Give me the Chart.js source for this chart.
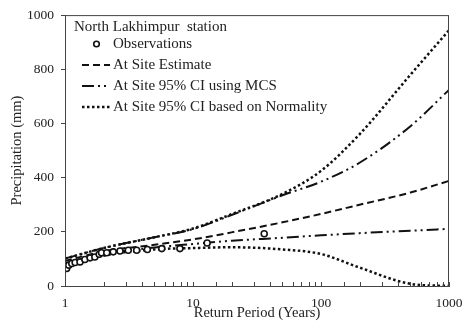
<!DOCTYPE html>
<html>
<head>
<meta charset="utf-8">
<script src="https://cdn.jsdelivr.net/npm/chart.js@4.4.1/dist/chart.umd.min.js"></script>
<style>
  html, body { margin: 0; padding: 0; background: #fff; }
  #wrap { width: 474px; height: 322px; position: relative; }
</style>
</head>
<body>
<div id="wrap"><canvas id="freqChart"></canvas></div>
<script>
const stationName = "North Lakhimpur  station";

// observed annual maxima at their plotting-position return periods
const obsPeriod = [1.03, 1.07, 1.13, 1.2, 1.31, 1.43, 1.57, 1.71, 1.85, 1.93, 2.12, 2.38, 2.69, 3.12, 3.63, 4.4, 5.7, 7.9, 12.9, 36];
const obsPrecip = [65, 77, 83, 87, 89, 98, 104, 107, 117, 123, 123, 126, 129, 132, 132, 135, 138, 138, 159, 193];

// return periods for the fitted curves
const curvePeriod = [1, 2, 5, 10, 20, 50, 100, 200, 500, 1000];
const siteEstimate = [92, 128, 152, 172, 198, 235, 266, 300, 345, 388];
const mcsUpper = [101, 140, 180, 210, 262, 335, 385, 455, 590, 724];
const mcsLower = [80, 118, 142, 155, 167, 178, 187, 195, 204, 211];
const normUpper = [101, 140, 180, 212, 265, 340, 425, 560, 780, 944];
const normLower = [70, 112, 135, 140, 143, 135, 118, 68, 8, 0];

const yTicks = [0, 200, 400, 600, 800, 1000];

const ink = "#111";
const serif = "'Liberation Serif', 'DejaVu Serif', serif";

function pairs(xs, ys) {
  return xs.map((x, i) => ({ x: x, y: ys[i] }));
}

function curve(label, values, dash, width) {
  return {
    label: label,
    data: pairs(curvePeriod, values),
    borderColor: ink,
    borderWidth: width || 2,
    borderDash: dash,
    pointRadius: 0,
    cubicInterpolationMode: "monotone",
    fill: false,
  };
}

const dashed = [7, 4];
const dashDotDot = [12, 4, 2, 4, 2, 4];
const dotted = [2.5, 2.5];

// frame round the plot, and x ticks pointing inward
const framePlugin = {
  id: "frame",
  afterDraw(chart) {
    const { ctx, chartArea: a, scales } = chart;
    ctx.save();
    ctx.strokeStyle = "#444";
    ctx.lineWidth = 1;
    ctx.strokeRect(a.left + 0.5, a.top + 0.5, a.right - a.left - 1, a.bottom - a.top);
    ctx.beginPath();
    scales.x.ticks.forEach((t) => {
      const px = Math.round(scales.x.getPixelForValue(t.value)) + 0.5;
      ctx.moveTo(px, a.bottom);
      ctx.lineTo(px, a.bottom - 4);
    });
    ctx.stroke();
    ctx.restore();
  },
};

// legend drawn inside the plot, one row per distinct label
const legendPlugin = {
  id: "insideLegend",
  afterDraw(chart) {
    const { ctx } = chart;
    ctx.save();
    ctx.font = "15px " + serif;
    ctx.fillStyle = "#222";
    ctx.textBaseline = "middle";
    ctx.fillText(stationName, 74, 27);
    const seen = new Set();
    let row = 0;
    chart.data.datasets.forEach((ds) => {
      if (seen.has(ds.label)) return;
      seen.add(ds.label);
      const y = 44 + row * 21;
      ctx.strokeStyle = ink;
      if (ds.showLine === false) {
        ctx.lineWidth = 1.6;
        ctx.setLineDash([]);
        ctx.beginPath();
        ctx.arc(96.5, y, 2.8, 0, Math.PI * 2);
        ctx.stroke();
      } else {
        ctx.lineWidth = ds.borderWidth;
        ctx.setLineDash(ds.borderDash || []);
        ctx.beginPath();
        ctx.moveTo(82, y);
        ctx.lineTo(110, y);
        ctx.stroke();
      }
      ctx.fillText(ds.label, 113, y);
      row++;
    });
    ctx.restore();
  },
};

new Chart(document.getElementById("freqChart"), {
  type: "line",
  data: {
    datasets: [
      {
        label: "Observations",
        data: pairs(obsPeriod, obsPrecip),
        showLine: false,
        pointRadius: 3,
        pointBorderWidth: 1.6,
        pointBorderColor: ink,
        pointBackgroundColor: "#fff",
      },
      curve("At Site Estimate", siteEstimate, dashed),
      curve("At Site 95% CI using MCS", mcsUpper, dashDotDot),
      curve("At Site 95% CI using MCS", mcsLower, dashDotDot),
      curve("At Site 95% CI based on Normality", normUpper, dotted, 2.5),
      curve("At Site 95% CI based on Normality", normLower, dotted, 2.5),
    ],
  },
  options: {
    responsive: true,
    maintainAspectRatio: false,
    animation: false,
    layout: { padding: { top: 13, right: 25, left: 0, bottom: 0 } },
    plugins: {
      legend: { display: false },
      tooltip: { enabled: false },
    },
    scales: {
      x: {
        type: "logarithmic",
        min: 1,
        max: 1000,
        afterFit(scale) {
          scale.height = 36;
        },
        grid: { display: true, drawOnChartArea: false, drawTicks: false },
        border: { display: true, color: "#444" },
        ticks: {
          autoSkip: false,
          maxRotation: 0,
          padding: 9,
          color: "#222",
          font: { family: serif, size: 13.5 },
          callback(value) {
            const l = Math.log10(value);
            return Math.abs(l - Math.round(l)) < 1e-9 ? String(value) : "";
          },
        },
        title: {
          display: true,
          text: "Return Period (Years)",
          color: "#222",
          font: { family: serif, size: 14.5 },
          padding: { top: 0, bottom: 0 },
        },
      },
      y: {
        min: 0,
        max: 1000,
        afterFit(scale) {
          scale.width = 65;
        },
        afterBuildTicks(scale) {
          scale.ticks = yTicks.map((v) => ({ value: v }));
        },
        grid: { drawOnChartArea: false, drawTicks: true, tickLength: 4, color: "#444" },
        border: { display: true, color: "#444" },
        ticks: {
          padding: 7,
          color: "#222",
          font: { family: serif, size: 13.5 },
          callback(value) {
            return String(value);
          },
        },
        title: {
          display: true,
          text: "Precipitation (mm)",
          color: "#222",
          font: { family: serif, size: 14.5 },
          padding: { top: 8, bottom: 0 },
        },
      },
    },
  },
  plugins: [framePlugin, legendPlugin],
});
</script>
</body>
</html>
